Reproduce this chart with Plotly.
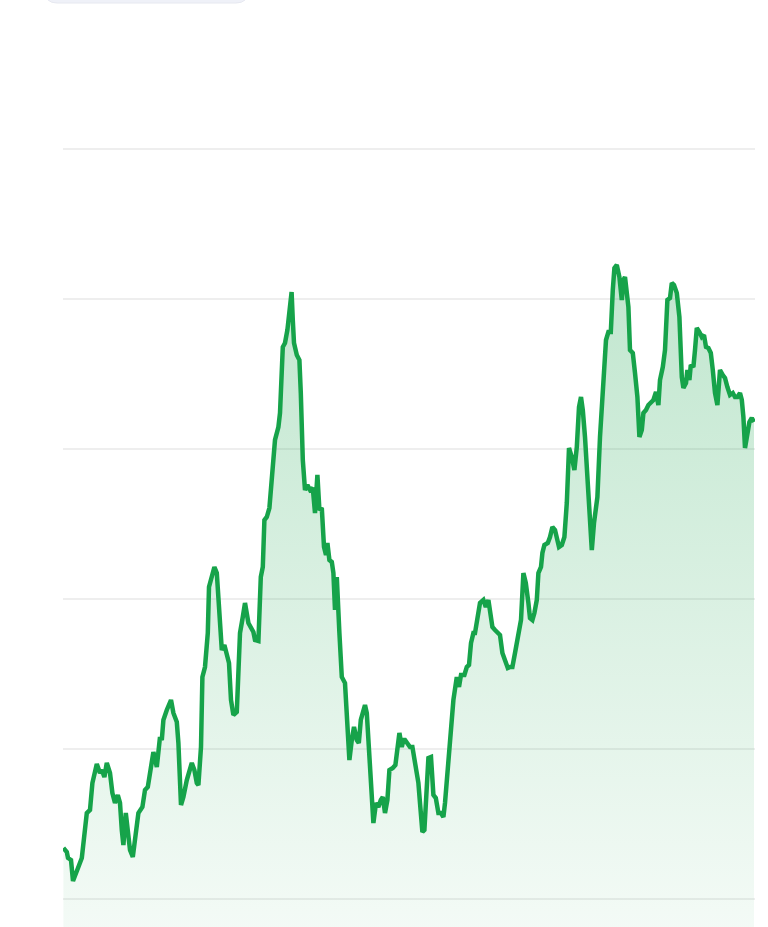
import plotly.graph_objects as go

# Day index and price values
days = [0.2, 1.9, 2.5, 4.0, 5.0, 6.4, 7.5, 9.4, 11.0, 11.9, 13.5, 14.7, 16.9, 18.5, 19.4, 20.7, 21.9, 23.5,
        24.7, 26.0, 27.4, 28.5, 29.4, 30.2, 31.4, 32.4, 33.5, 34.9, 36.0, 37.7, 39.7, 41.0, 42.4, 44.4,
        45.2, 46.9, 47.7, 48.5, 49.4, 50.2, 51.9, 54.0, 55.2, 56.9, 57.7, 59.0, 60.2, 61.9, 64.4, 65.7,
        66.9, 67.7, 69.0, 69.7, 71.0, 72.4, 73.0, 74.4, 75.7, 76.9, 78.0, 79.4, 80.7, 81.9, 83.0, 84.0,
        85.2, 86.9, 88.5, 89.9, 91.0, 92.7, 93.9, 95.2, 96.0, 97.7, 98.9, 99.9, 100.7, 101.9, 103.2,
        104.4, 106.0, 107.7, 108.5, 109.9, 111.0, 112.2, 113.2, 114.3, 114.9, 115.5, 116.9, 118.2,
        118.9, 119.9, 121.0, 122.2, 123.5, 124.9, 126.0, 127.2, 128.2, 129.4, 130.5, 131.5, 132.2,
        133.2, 134.4, 135.2, 136.0, 136.9, 138.2, 139.4, 141.0, 141.9, 143.2, 144.4, 145.5, 146.9,
        147.9, 148.9, 149.9, 151.0, 151.9, 153.2, 154.4, 155.2, 156.5, 157.7, 158.9, 159.9, 161.0,
        162.2, 163.2, 164.9, 166.2, 167.2, 168.2, 169.4, 170.2, 171.0, 172.4, 173.5, 174.7, 176.0,
        177.7, 178.5, 179.7, 180.7, 181.9, 182.7, 184.0, 185.2, 186.4, 187.7, 189.0, 190.2, 191.0,
        192.4, 193.5, 195.2, 196.9, 198.0, 199.0, 200.7, 201.9, 203.0, 204.0, 205.2, 206.0, 207.4,
        208.5, 210.2, 211.4, 212.7, 214.0, 214.7, 216.0, 217.4, 218.5, 219.7, 221.0, 222.4, 223.5,
        224.7, 226.0, 227.7, 229.0, 230.2, 231.4, 232.7, 233.5, 234.7, 235.7, 236.9, 237.7, 239.0,
        239.7, 240.7, 242.4, 243.5, 244.7, 246.0, 246.9, 248.0, 249.4, 250.7, 251.9, 253.0, 254.4,
        255.7, 256.9, 258.0, 259.0, 259.9, 261.0, 262.7, 264.4, 265.5, 267.2, 268.5, 270.2, 271.5,
        272.7, 273.9, 274.9, 275.7, 276.9, 278.2, 279.4, 280.2, 281.0, 281.9, 282.7, 283.5, 284.9,
        286.0, 287.2, 288.2, 289.4, 290.2, 291.5, 292.7, 293.9, 295.2, 296.5, 297.7, 298.5, 299.9,
        301.0, 302.2, 303.5, 304.4, 305.5, 306.9, 308.2, 309.4, 310.2, 311.5, 312.2, 313.2, 313.9,
        315.2, 316.0, 316.9, 318.2, 319.4, 320.5, 321.5, 322.7, 323.9, 324.9, 326.0, 327.2, 328.5,
        329.9, 331.0, 332.2, 333.5, 334.9, 336.0, 337.2, 338.5, 339.4, 340.2, 341.0, 342.2, 343.2,
        344.4, 345.5]

prices = [105.1, 104.7, 104.1, 103.9, 101.8, 102.7, 103.1, 104.1, 106.9, 108.6, 108.9, 111.6, 113.5,
          112.6, 112.9, 112.2, 113.6, 112.6, 110.6, 109.6, 110.4, 109.6, 106.9, 105.4, 108.6, 106.9,
          104.9, 104.2, 106.2, 108.6, 109.2, 110.9, 111.2, 113.9, 114.7, 113.2, 115.2, 116.2, 115.9,
          117.9, 118.9, 119.9, 118.6, 117.7, 115.6, 109.4, 110.2, 111.9, 113.6, 112.9, 111.6, 111.4,
          115.2, 122.2, 123.2, 126.6, 131.2, 132.2, 133.2, 132.6, 129.2, 124.9, 125.4, 124.6, 123.6,
          119.9, 118.4, 118.7, 126.6, 128.2, 129.6, 127.6, 127.1, 126.7, 125.9, 125.8, 132.2, 133.2,
          137.9, 138.2, 139.1, 142.6, 145.9, 147.2, 148.6, 155.2, 155.6, 156.9, 158.6, 160.7, 157.9,
          155.6, 154.4, 153.9, 150.6, 143.9, 140.9, 141.4, 140.9, 141.1, 138.6, 142.4, 138.9, 139.1,
          135.2, 134.4, 135.6, 133.9, 133.7, 132.6, 128.9, 132.2, 126.6, 122.2, 121.6, 117.6, 113.9,
          115.9, 117.2, 115.9, 115.6, 117.9, 118.7, 119.4, 118.6, 114.2, 111.6, 107.6, 109.6, 109.2,
          109.9, 110.2, 108.6, 109.9, 112.9, 113.1, 113.4, 115.2, 116.6, 115.2, 115.9, 115.9, 115.4,
          115.2, 115.2, 113.6, 111.6, 109.6, 106.7, 106.9, 111.6, 114.1, 114.2, 110.4, 110.1, 108.6,
          108.6, 108.2, 109.6, 112.9, 116.2, 119.9, 122.2, 121.2, 122.4, 122.4, 123.2, 123.4, 125.6,
          126.6, 126.6, 128.2, 129.6, 129.9, 129.2, 129.9, 128.2, 127.2, 126.9, 126.6, 126.4, 124.6,
          123.9, 123.1, 123.2, 123.2, 124.6, 126.2, 127.9, 132.6, 131.6, 129.6, 128.1, 127.9, 128.6,
          129.9, 132.6, 133.2, 134.6, 135.4, 135.6, 136.2, 137.2, 136.9, 135.9, 135.2, 135.4, 136.2,
          139.6, 145.1, 144.2, 142.9, 145.2, 149.2, 150.2, 148.9, 146.2, 139.9, 134.9, 137.6, 140.2,
          146.2, 152.6, 155.9, 156.7, 156.7, 160.9, 163.1, 163.4, 162.2, 159.9, 161.9, 162.2, 160.9,
          159.2, 154.9, 154.6, 152.6, 150.2, 146.2, 146.9, 148.6, 148.9, 149.4, 149.7, 149.9, 150.7,
          149.4, 151.9, 153.2, 154.9, 159.9, 160.1, 161.6, 161.4, 160.6, 158.2, 152.2, 151.1, 151.6,
          152.9, 151.9, 153.4, 153.2, 154.9, 157.1, 156.7, 156.2, 156.4, 155.2, 155.1, 154.6, 152.9,
          150.6, 149.4, 152.9, 152.4, 152.1, 151.2, 150.4, 150.6, 150.2, 150.2, 150.6, 149.9, 148.2,
          145.1, 146.6, 147.7, 148.1, 147.7]

GREEN = "#16a34a"

W, H = 768, 927
L, R, T, B = 63, 13, 100, 0
Y_LO, Y_HI = 97.2, 179.9

fig = go.Figure()
fig.add_trace(go.Scatter(
    x=days, y=prices, mode="lines",
    line=dict(color=GREEN, width=4.5),
    fill="tozeroy",
    fillgradient=dict(
        type="vertical",
        colorscale=[[0, "rgba(22,163,74,0.05)"], [1, "rgba(22,163,74,0.27)"]],
        start=Y_LO, stop=max(prices),
    ),
    hoverinfo="skip",
))

# decorative pill button cut off at the top of the page
plot_w = W - L - R
plot_h = H - T - B


def px_x(p):
    return (p - L) / plot_w


def px_y(p):
    return (H - B - p) / plot_h


x0, x1, ytop, ybot, r = 45, 248, -40, 3, 12
path = (f"M {px_x(x0)},{px_y(ytop)} L {px_x(x0)},{px_y(ybot - r)} "
        f"Q {px_x(x0)},{px_y(ybot)} {px_x(x0 + r)},{px_y(ybot)} "
        f"L {px_x(x1 - r)},{px_y(ybot)} "
        f"Q {px_x(x1)},{px_y(ybot)} {px_x(x1)},{px_y(ybot - r)} "
        f"L {px_x(x1)},{px_y(ytop)} Z")
fig.add_shape(type="path", path=path, xref="paper", yref="paper",
              fillcolor="#eff1f8", line=dict(color="#e6e8f0", width=1), layer="above")

fig.update_layout(
    width=W, height=H,
    margin=dict(l=L, r=R, t=T, b=B, pad=0),
    paper_bgcolor="white", plot_bgcolor="white",
    showlegend=False,
    xaxis=dict(range=[0, 346], showgrid=False, zeroline=False, showticklabels=False,
               showline=False, fixedrange=True),
    yaxis=dict(range=[Y_LO, Y_HI], tick0=100, dtick=15, showgrid=True,
               gridcolor="#eeeeee", gridwidth=2, zeroline=False,
               showticklabels=False, showline=False, fixedrange=True),
)

fig.write_html(
    "out.html",
    config={"displayModeBar": False},
    post_script="document.body.style.margin='0';document.body.style.overflow='hidden';",
)
